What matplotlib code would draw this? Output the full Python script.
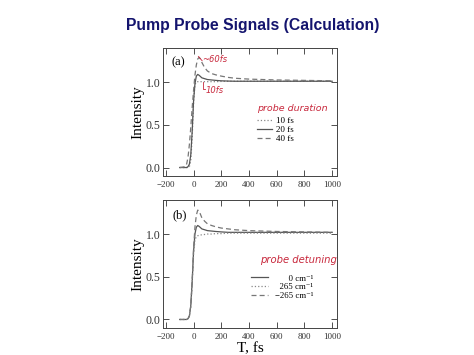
import matplotlib
matplotlib.use('Agg')
import matplotlib.pyplot as plt

# time axis (fs)
T = [-100, -60, -50, -40, -30, -20, -10, 0, 10, 20, 30, 40, 50, 60, 80,
     100, 130, 160, 200, 250, 300, 400, 500, 600, 800, 1000]

# (a) probe duration
dur_10 = [0, 0, 0, 0, 0.01, 0.08, 0.35, 0.75, 0.97, 1.0, 1.005, 1.005, 1.005, 1.005, 1.005,
          1.005, 1.005, 1.005, 1.008, 1.01, 1.01, 1.01, 1.01, 1.01, 1.01, 1.01]
dur_20 = [0, 0, 0, 0.01, 0.04, 0.15, 0.42, 0.78, 0.98, 1.07, 1.09, 1.08, 1.065, 1.05, 1.04,
          1.03, 1.025, 1.02, 1.015, 1.012, 1.01, 1.01, 1.01, 1.01, 1.01, 1.01]
dur_40 = [0, 0.01, 0.04, 0.12, 0.27, 0.47, 0.70, 0.90, 1.08, 1.20, 1.27, 1.29, 1.27, 1.23, 1.17,
          1.13, 1.10, 1.085, 1.07, 1.055, 1.045, 1.035, 1.03, 1.025, 1.02, 1.015]
dur_labels = ['10 fs', '20 fs', '40 fs']

# (b) probe detuning
det_0 = [0, 0, 0, 0.01, 0.04, 0.16, 0.44, 0.80, 1.0, 1.08, 1.10, 1.09, 1.075, 1.06, 1.05,
         1.04, 1.035, 1.03, 1.025, 1.02, 1.02, 1.02, 1.02, 1.02, 1.02, 1.02]
det_p265 = [0, 0, 0, 0.01, 0.04, 0.15, 0.42, 0.76, 0.93, 0.97, 0.98, 0.985, 0.99, 0.99, 0.995,
            1.0, 1.0, 1.005, 1.005, 1.01, 1.01, 1.01, 1.01, 1.01, 1.01, 1.01]
det_m265 = [0, 0, 0, 0.01, 0.04, 0.16, 0.44, 0.82, 1.08, 1.22, 1.28, 1.27, 1.23, 1.19, 1.15,
            1.12, 1.10, 1.085, 1.07, 1.06, 1.05, 1.04, 1.035, 1.03, 1.025, 1.02]
det_labels = ['      0 cm\u207b\u00b9', '  265 cm\u207b\u00b9', '\u2212265 cm\u207b\u00b9']

serif = 'Liberation Serif'
red = '#c8283c'

fig = plt.figure(figsize=(4.74, 3.55), dpi=100)
fig.text(0.534, 0.928, 'Pump Probe Signals (Calculation)', ha='center', va='center',
         fontsize=11.3, fontweight='bold', color='#14146e', family='Liberation Sans')

ax1 = fig.add_axes([0.344, 0.504, 0.367, 0.361])
ax2 = fig.add_axes([0.344, 0.076, 0.367, 0.361])

def style(ax):
    ax.set_xlim(-220, 1035)
    ax.set_ylim(-0.1, 1.4)
    ax.set_xticks(range(-200, 1001, 200))
    ax.set_yticks([0.0, 0.5, 1.0])
    ax.set_yticklabels(['0.0', '0.5', '1.0'])
    ax.tick_params(direction='in', top=True, right=True, length=4, width=0.6, colors='#333333')
    ax.tick_params(axis='y', pad=2)
    for lab in ax.get_xticklabels():
        lab.set_family(serif)
        lab.set_fontsize(6.5)
    for lab in ax.get_yticklabels():
        lab.set_family(serif)
        lab.set_fontsize(8.5)
    for s in ax.spines.values():
        s.set_linewidth(0.7)
        s.set_color('#444444')
    ax.set_ylabel('Intensity', family=serif, fontsize=11, labelpad=1)

# panel (a)
ax1.plot(T, dur_10, color='#888888', lw=0.9, ls=':', label=dur_labels[0])
ax1.plot(T, dur_20, color='#555555', lw=0.9, ls='-', label=dur_labels[1])
ax1.plot(T, dur_40, color='#777777', lw=0.9, ls=(0, (4, 2.5)), label=dur_labels[2])
style(ax1)
ax1.text(-110, 1.23, '(a)', family=serif, fontsize=9, ha='center', va='center')
ax1.legend(loc='center', bbox_to_anchor=(0.645, 0.36), frameon=False,
           prop={'family': serif, 'size': 6.5}, handlelength=1.7,
           labelspacing=0.05, handletextpad=0.4)
ax1.text(710, 0.69, 'probe duration', color=red, fontsize=6.8, style='italic',
         ha='center', va='center', family='DejaVu Sans')
ax1.text(60, 1.26, '~60fs', color=red, fontsize=6, style='italic', ha='left', va='center')
ax1.plot([35, 62], [1.30, 1.25], color=red, lw=0.6)
ax1.text(85, 0.9, '10fs', color=red, fontsize=6, style='italic', ha='left', va='center')
ax1.plot([70, 70, 85], [1.0, 0.92, 0.92], color=red, lw=0.6)

# panel (b)
ax2.plot(T, det_0, color='#555555', lw=0.9, ls='-', label=det_labels[0])
ax2.plot(T, det_p265, color='#888888', lw=0.9, ls=':', label=det_labels[1])
ax2.plot(T, det_m265, color='#777777', lw=0.9, ls=(0, (4, 2.5)), label=det_labels[2])
style(ax2)
ax2.text(-100, 1.22, '(b)', family=serif, fontsize=9, ha='center', va='center')
ax2.legend(loc='center', bbox_to_anchor=(0.685, 0.32), frameon=False,
           prop={'family': [serif, 'DejaVu Serif'], 'size': 6.3}, handlelength=2.0,
           labelspacing=0.05, handletextpad=0.8)
ax2.text(760, 0.70, 'probe detuning', color=red, fontsize=7.2, style='italic',
         ha='center', va='center', family='DejaVu Sans')
ax2.set_xlabel('T, fs', family=serif, fontsize=11, labelpad=1)

fig.savefig('out.png', dpi=100)
